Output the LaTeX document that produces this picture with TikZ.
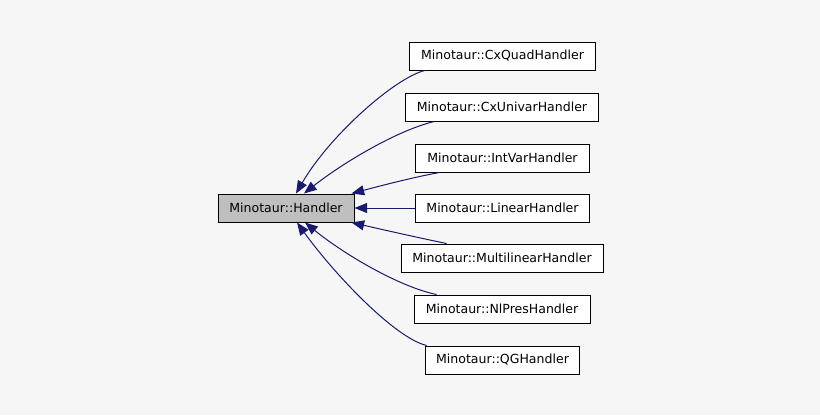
\documentclass[tikz,border=0pt]{standalone}
\usepackage{fontspec}
\setmainfont{DejaVu Sans}
\usetikzlibrary{arrows.meta,calc}
\definecolor{bgc}{HTML}{F6F6F6}
\definecolor{edgec}{HTML}{191970}
\definecolor{basec}{HTML}{BFBFBF}
\begin{document}
\begin{tikzpicture}[x=0.75pt,y=-0.75pt,
  cls/.style={draw=black,line width=0.75pt,fill=white,inner sep=0pt,minimum height=21pt,font=\fontsize{9.4}{11}\selectfont},
  edge/.style={draw=edgec,line width=0.75pt,-{Triangle[length=9.5pt,width=7.5pt]}}]
\fill[bgc] (0,0) rectangle (820,415);
\useasboundingbox (0,0) rectangle (820,415);
\node[cls,fill=basec,minimum width=102pt] (h) at (286,208) {Minotaur::Handler};
\node[cls,minimum width=140pt] (cq) at (502.5,56) {Minotaur::CxQuadHandler};
\node[cls,minimum width=144.5pt] (cu) at (502,107) {Minotaur::CxUnivarHandler};
\node[cls,minimum width=130pt] (iv) at (502.5,158) {Minotaur::IntVarHandler};
\node[cls,minimum width=131pt] (li) at (502.5,208) {Minotaur::LinearHandler};
\node[cls,minimum width=151.5pt] (ml) at (502,258) {Minotaur::MultilinearHandler};
\node[cls,minimum width=132pt] (np) at (502,309) {Minotaur::NlPresHandler};
\node[cls,minimum width=116pt] (qg) at (502.5,360) {Minotaur::QGHandler};
\draw[edge] ($(cq.south west)+(16,0)$) .. controls (395,78) and (330,135) .. ($(h.north)+(10,0)$);
\draw[edge] ($(cu.south west)+(29,0)$) .. controls (395,131) and (340,165) .. ($(h.north)+(18,0)$);
\draw[edge] ($(iv.south west)+(24,0)$) .. controls (410,178) and (380,186) .. ($(h.north east)+(-3,0)$);
\draw[edge] (li.west) -- (h.east);
\draw[edge] ($(ml.north west)+(46,0)$) .. controls (415,237) and (380,229) .. ($(h.south east)+(-3,0)$);
\draw[edge] ($(np.north west)+(23,0)$) .. controls (400,287) and (345,255) .. ($(h.south)+(19,0)$);
\draw[edge] ($(qg.north west)+(2,0)$) .. controls (395,338) and (335,275) .. ($(h.south)+(11,0)$);
\end{tikzpicture}
\end{document}
